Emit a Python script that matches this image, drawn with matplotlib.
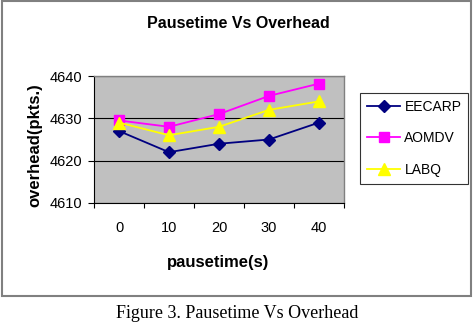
import matplotlib
matplotlib.use("Agg")
import matplotlib.pyplot as plt
from matplotlib.patches import Rectangle

pausetimes = ["0", "10", "20", "30", "40"]
eecarp = [4627, 4622, 4624, 4625, 4629]
aomdv = [4629.5, 4628, 4631, 4635.3, 4638.2]
labq = [4629, 4626, 4628, 4632, 4634]
y_ticks = [4610, 4620, 4630, 4640]

plt.rcParams['font.family'] = ['Liberation Sans', 'DejaVu Sans']

W, H = 474, 335
fig = plt.figure(figsize=(W / 100, H / 100), dpi=100)
fig.patch.set_facecolor('white')

# outer chart border
fig.patches.append(Rectangle((2 / W, 1 - 296 / H), 469 / W, 295 / H,
                             transform=fig.transFigure, fill=False,
                             edgecolor='#808080', linewidth=1.5))

ax = fig.add_axes([94 / W, 1 - 203 / H, 250 / W, 127 / H])
ax.set_facecolor('#C0C0C0')

x = list(range(len(pausetimes)))
ax.plot(x, eecarp, color='#000080', marker='D', markersize=6, linewidth=1.3, label='EECARP')
ax.plot(x, aomdv, color='#FF00FF', marker='s', markersize=7, linewidth=1.3, label='AOMDV')
ax.plot(x, labq, color='#FFFF00', marker='^', markersize=8, linewidth=1.3, label='LABQ')

ax.set_xlim(-0.5, len(pausetimes) - 0.5)
ax.set_ylim(4610, 4640)
ax.set_yticks(y_ticks)
ax.set_yticklabels([str(v) for v in y_ticks], fontsize=10.5)
ax.set_xticks(x)
ax.set_xticklabels(pausetimes, fontsize=10.5)
ax.set_xticks([i - 0.5 for i in range(len(pausetimes) + 1)], minor=True)
ax.tick_params(axis='x', which='major', length=0, pad=13)
ax.tick_params(axis='x', which='minor', length=3.5, width=0.8, color='black')
ax.tick_params(axis='y', length=4.3, width=0.8, pad=4)

ax.grid(axis='y', color='black', linewidth=0.8)
ax.set_axisbelow(True)
for s in ['top', 'right']:
    ax.spines[s].set_color('#808080')
    ax.spines[s].set_linewidth(1.0)
for s in ['left', 'bottom']:
    ax.spines[s].set_color('black')
    ax.spines[s].set_linewidth(0.8)

ax.set_ylabel('overhead(pkts.)', fontsize=12, fontweight='bold', va='center')
ax.yaxis.set_label_coords(-0.236, 0.457)
ax.set_xlabel('pausetime(s)', fontsize=12, fontweight='bold', va='center')
ax.xaxis.set_label_coords(0.498, -0.465)

fig.text(238.5 / W, 1 - 23 / H, 'Pausetime Vs Overhead', fontsize=11.5,
         fontweight='bold', ha='center', va='center')

leg = ax.legend(loc='upper left', bbox_to_anchor=((360 - 94) / 250, (203 - 93) / 127),
                borderaxespad=0, fancybox=False, frameon=True, fontsize=10,
                handlelength=2.4, handletextpad=0.3, labelspacing=1.25,
                borderpad=0.5)
leg.get_frame().set_edgecolor('black')
leg.get_frame().set_linewidth(0.8)

fig.text(237 / W, 1 - 313 / H, 'Figure 3. Pausetime Vs Overhead',
         family=['Liberation Serif', 'DejaVu Serif'], fontsize=13,
         ha='center', va='center')

fig.savefig('out.png', dpi=100, facecolor='white')
